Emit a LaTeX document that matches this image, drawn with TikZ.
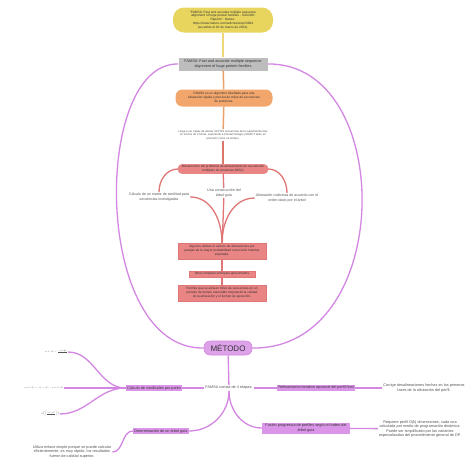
\documentclass[tikz,border=0pt]{standalone}
\usepackage{fontspec}
\setmainfont{Liberation Sans}
\definecolor{yelF}{HTML}{E8D55E}
\definecolor{yelL}{HTML}{EED77A}
\definecolor{grayF}{HTML}{BDBDBD}
\definecolor{orF}{HTML}{F2A66C}
\definecolor{orL}{HTML}{E9A06A}
\definecolor{redF}{HTML}{EA8585}
\definecolor{redL}{HTML}{E07676}
\definecolor{purF}{HTML}{DB95E8}
\definecolor{purL}{HTML}{D487E2}
\definecolor{metF}{HTML}{DDA2E9}
\definecolor{txtD}{HTML}{333333}
\definecolor{txtG}{HTML}{555555}
\tikzset{
  tiny/.style={font=\fontsize{3.2}{3.9}\selectfont, align=center, text=txtD},
  plain/.style={tiny, text=txtG, inner sep=1pt},
  lplain/.style={plain, font=\fontsize{3.8}{4.4}\selectfont},
  mathtxt/.style={plain, inner sep=0.5pt},
  ybox/.style={tiny, fill=yelF, rounded corners=11pt, minimum width=100pt, minimum height=25pt, inner sep=1pt},
  gbox/.style={tiny, font=\fontsize{3.8}{4.4}\selectfont, fill=grayF, minimum width=89pt, minimum height=13pt, inner sep=1pt},
  obox/.style={tiny, fill=orF, rounded corners=7pt, minimum width=97pt, minimum height=17pt, inner sep=1pt},
  rbox/.style={tiny, fill=redF, draw=redL, line width=0.3pt, minimum width=88pt, inner sep=1.2pt},
  rrbox/.style={rbox, rounded corners=4pt, minimum width=90pt, minimum height=8pt},
  pbox/.style={tiny, font=\fontsize{3.8}{4.4}\selectfont, fill=purF, inner sep=1.3pt},
  mbox/.style={font=\fontsize{8}{9}\selectfont, text=txtD, fill=metF, draw=purL, line width=0.6pt, rounded corners=6pt, minimum width=48pt, minimum height=14pt, inner sep=1pt},
  yline/.style={yelL, line width=1.5pt},
  oline/.style={orL, line width=1.5pt},
  rline/.style={redL, line width=1.3pt},
  pline/.style={purL, line width=1.3pt},
}
\begin{document}
\begin{tikzpicture}[x=1pt,y=-1pt]
\useasboundingbox (0,0) rectangle (474,467);
\fill[white] (0,0) rectangle (474,467);

% upper column
\node[ybox] (src) at (223,20) {``FAMSA: Fast and accurate multiple sequence\\alignment of huge protein families - Scientific\\Reports''. Nature.\\https://www.nature.com/articles/srep33964\\(accedido el 20 de marzo de 2023).};
\node[gbox] (gray) at (223,64) {FAMSA: Fast and accurate multiple sequence\\alignment of huge protein families};
\node[obox] (ori) at (224,98) {FAMSA es un algoritmo diseñado para una\\alineación rápida y precisa de miles de secuencias\\de proteínas.};
\node[plain, font=\fontsize{2.8}{3.4}\selectfont] (lleg) at (223,135) {Llega a ser capaz de alinear 415\,519 secuencias de la superfamilia Ras\\en menos de 2 horas, superando a Clustal Omega y MAFFT tanto en\\precisión como en tiempo.};
\node[rrbox] (mec) at (223,169) {Mecanismos del problema de alineamiento de secuencias\\múltiples de proteínas (MSA)};
\node[plain, font=\fontsize{3.6}{4.2}\selectfont] (calcm) at (159,197) {Cálculo de un matriz de similitud para\\secuencias investigadas};
\node[plain, font=\fontsize{3.6}{4.2}\selectfont] (arbol) at (224,193) {Una construcción del\\árbol guía};
\node[plain, font=\fontsize{3.6}{4.2}\selectfont] (codi) at (287,198) {Alineación codiciosa de acuerdo con el\\orden dado por el árbol};
\node[rbox, minimum height=16pt] (alg) at (222,251) {Algunos utilizan el cálculo de alineaciones por\\parejas de la mayor probabilidad o precisión máxima\\esperada.};
\node[rbox, minimum width=66pt, minimum height=6pt] (otros) at (222,274) {Otros emplean enfoques aproximados};
\node[rbox, minimum height=16pt] (perm) at (222,293) {Permite que se alineen miles de secuencias en un\\periodo de tiempo razonable mejorando la calidad\\de la alineación y el tiempo de ejecución.};

\node[mbox] (met) at (228,348) {MÉTODO};

% lower part
\node[lplain] (etapas) at (229,388) {FAMSA consta de 4 etapas:};
\node[pbox] (calc) at (154,388) {Cálculo de similitudes por pares};
\node[pbox] (refin) at (316,388) {Refinamiento iterativo opcional del perfil final};
\node[lplain] (corr) at (424,388) {Corrige desalineaciones hechas en las primeras\\fases de la alineación del perfil.};
\node[pbox] (det) at (161,431) {Determinación de un árbol guía};
\node[pbox, minimum width=88pt, minimum height=11pt] (fus) at (306,428) {Fusión progresiva de perfiles según el orden del\\árbol guía};
\node[lplain] (req) at (420,429) {Requiere perfil O(k) dimensiones, cada una\\calculada por medio de programación dinámica.\\Puede ser simplificado por las variantes\\especializadas del procedimiento general de DP.};
\node[lplain] (util) at (72,452) {Utiliza enlace simple porque se puede calcular\\eficientemente, es muy rápido, los resultados\\fueron de calidad superior.};
\node[mathtxt] (f1) at (56,352) {\scalebox{0.38}{$\mathrm{sim}(A,B)=\frac{\mathrm{LCS}(A,B)}{\mathrm{indel}(A,B)}$}};
\node[mathtxt] (f2) at (44,388) {\scalebox{0.38}{$\mathrm{indel}(A,B)=|A|+|B|-2\,\mathrm{LCS}(A,B)$}};
\node[mathtxt] (f3) at (50,414) {\scalebox{0.38}{$O\!\left(\left\lceil\frac{|A|\,|B|}{w}\right\rceil\right)$}};

% connectors upper
\draw[yline] (src) -- (gray);
\draw[oline] (gray) -- (ori);
\draw[oline] (ori) -- (lleg);
\draw[rline, redL!80!brown] (lleg) -- (mec);
\draw[rline] (mec.west) to[out=180,in=90] (calcm.north);
\draw[rline] (mec.east) to[out=0,in=90] (codi.north);
\draw[rline] (mec) -- (arbol);
\draw[rline] (arbol) -- (alg);
\draw[rline] (calcm.east) to[out=0,in=90] (alg.north);
\draw[rline] (codi.west) to[out=180,in=90] (alg.north);
\draw[rline] (alg) -- (otros);
\draw[rline] (otros) -- (perm);

% big loop
\draw[pline] (gray.west) .. controls (92,62) and (92,350) .. (met.west);
\draw[pline] (gray.east) .. controls (396,62) and (396,350) .. (met.east);

% connectors lower
\draw[pline] (met) -- (etapas);
\draw[pline] (etapas) -- (calc);
\draw[pline] (etapas) -- (refin);
\draw[pline] (refin) -- (corr);
\draw[pline] (calc.west) to[out=180,in=0] (f1.east);
\draw[pline] (calc.west) -- (f2.east);
\draw[pline] (calc.west) to[out=180,in=0] (f3.east);
\draw[pline] (etapas.south) to[out=-90,in=0] (det.east);
\draw[pline] (etapas.south) to[out=-90,in=180] (fus.west);
\draw[pline] (fus) -- (req);
\draw[pline] (det.west) to[out=180,in=0] (util.east);
\end{tikzpicture}
\end{document}
